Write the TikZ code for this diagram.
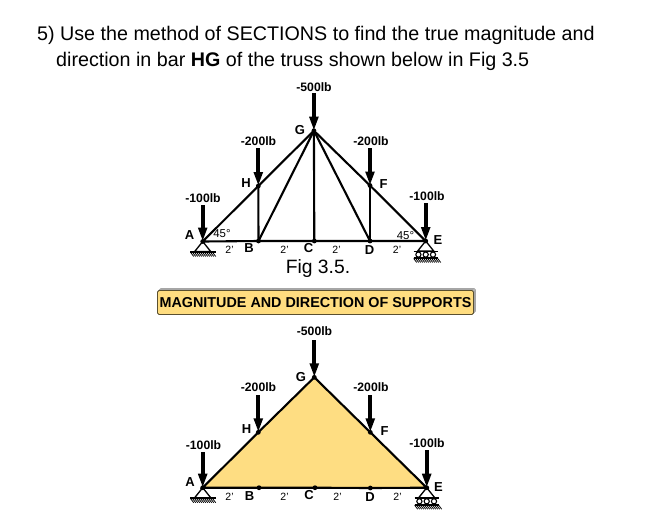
\documentclass[tikz,border=0pt]{standalone}
\usepackage{fontspec}
\setmainfont{Liberation Sans}
\usetikzlibrary{arrows.meta,shadows}
\definecolor{bannerfill}{HTML}{FFDD80}
\definecolor{bannerdraw}{HTML}{5A5030}
\definecolor{trussfill}{HTML}{FEDD82}
\tikzset{
  x=1pt,y=-1pt,
  member/.style={line width=2.1pt,black},
  joint/.style={circle,fill=black,inner sep=0pt,minimum size=4.8pt},
  load/.style={line width=3.8pt,black,-{Triangle[length=14pt,width=8.5pt]},shorten >=0pt},
  lbl/.style={font=\bfseries\fontsize{13}{14}\selectfont,inner sep=0pt},
  loadlbl/.style={font=\bfseries\fontsize{12.2}{14}\selectfont,inner sep=0pt},
  dim/.style={font=\fontsize{10.5}{12}\selectfont,inner sep=0pt},
  ang/.style={font=\fontsize{11.4}{12}\selectfont,inner sep=0pt},
  thin support/.style={line width=1.3pt,black},
  ground/.style={line width=1.8pt,black},
  hatch/.style={line width=.8pt,black},
  title/.style={font=\fontsize{19.7}{22}\selectfont,anchor=base west,inner sep=0pt},
  pics/pinsupport/.style={code={
    \draw[thin support] (0,0) -- (-8,10) -- (8,10) -- cycle;
    \draw[ground] (-12.7,10.5) -- (13,10.5);
    \foreach \i in {-12,-10,...,10} \draw[hatch] (\i,11) -- ++(3,4);
  }},
  pics/rollersupport/.style={code={
    \draw[thin support] (0,0) -- (-8,10) -- (8,10) -- cycle;
    \draw[ground] (-12,10.5) -- (12,10.5);
    \foreach \i in {-7.3,0,7.3} \draw[line width=1.1pt] (\i,13.6) circle (2.6);
    \draw[ground] (-12,17) -- (12,17);
    \foreach \i in {-12,-10,...,12} \draw[hatch] (\i,17.5) -- ++(3,4);
  }},
}
\begin{document}
\begin{tikzpicture}
\useasboundingbox (0,0) rectangle (652,517);
\fill[white] (0,0) rectangle (652,517);

% title
\node[title] (t1) at (37,40) {5) Use the method of SECTIONS to find the true magnitude and};
\node[title] (t2) at (56,66) {direction in bar \textbf{HG} of the truss shown below in Fig 3.5};

% ------- upper truss
\coordinate (A) at (202.7,241.5);
\coordinate (B) at (258.5,241);
\coordinate (C) at (314.3,241);
\coordinate (D) at (370,241);
\coordinate (E) at (425.7,241);
\coordinate (G) at (313.9,130.7);
\coordinate (H) at (258.3,186);
\coordinate (F) at (370,185.5);
\draw[member] (A) -- (H) -- (G) -- (F) -- (E) -- (D) -- (C) -- (B) -- (A);
\draw[member] (H) -- (B);
\draw[member] (B) -- (G);
\draw[member] (G) -- (C);
\draw[member] (G) -- (D);
\draw[member] (F) -- (D);
\pic at (A) {pinsupport};
\pic at (E) {rollersupport};
\foreach \n in {A,B,C,D,E,F,G,H} \node[joint] (j\n) at (\n) {};

\coordinate (la) at (202.7,205);
\coordinate (lh) at (258.3,148);
\coordinate (lg) at (313.9,93);
\coordinate (lf) at (370,148);
\coordinate (le) at (425.7,203);
\draw[load] (la) -- (A);
\draw[load] (lh) -- (H);
\draw[load] (lg) -- (G);
\draw[load] (lf) -- (F);
\draw[load] (le) -- (E);

\node[loadlbl] (l500) at (314,87) {-500lb};
\node[loadlbl] (l200a) at (258.5,141) {-200lb};
\node[loadlbl] (l200b) at (371,141) {-200lb};
\node[loadlbl] (l100a) at (203,198) {-100lb};
\node[loadlbl] (l100b) at (427,196) {-100lb};

\node[lbl] (nA) at (189.5,235.5) {A};
\node[lbl] (nB) at (249,248.5) {B};
\node[lbl] (nC) at (308.5,248.5) {C};
\node[lbl] (nD) at (369.5,250) {D};
\node[lbl] (nE) at (438,240.5) {E};
\node[lbl] (nG) at (300,130) {G};
\node[lbl] (nH) at (246,183) {H};
\node[lbl] (nF) at (383.5,184.5) {F};
\node[dim] (d1) at (229.5,250) {2'};
\node[dim] (d2) at (284.5,250) {2'};
\node[dim] (d3) at (336.5,250) {2'};
\node[dim] (d4) at (397,250) {2'};
\node[ang] (a1) at (222,234) {45°};
\node[ang] (a2) at (405.5,235.5) {45°};
\node[font=\fontsize{19.3}{22}\selectfont,inner sep=0pt] (fig) at (318,269) {Fig 3.5.};

% ------- banner
\node[draw=bannerdraw,fill=bannerfill,line width=.8pt,rounded corners=1.5pt,
      minimum width=316pt,minimum height=24pt,inner sep=0pt,
      double copy shadow={shadow xshift=1pt,shadow yshift=1pt,draw=gray!70,fill=gray!30},
      font=\bfseries\fontsize{14.35}{16}\selectfont] (banner) at (315.5,302.5) {MAGNITUDE AND DIRECTION OF SUPPORTS};

% ------- lower truss
\coordinate (A2) at (202.7,487.7);
\coordinate (B2) at (259,487.7);
\coordinate (C2) at (315,487.7);
\coordinate (D2) at (370.3,488);
\coordinate (E2) at (426.7,487.7);
\coordinate (G2) at (314.3,377.3);
\coordinate (H2) at (258.3,432.3);
\coordinate (F2) at (370.3,432.3);
\draw[member,fill=trussfill] (A2) -- (H2) -- (G2) -- (F2) -- (E2) -- (D2) -- (C2) -- (B2) -- cycle;
\pic at (A2) {pinsupport};
\pic at (E2) {rollersupport};
\foreach \n in {A2,B2,C2,D2,E2,F2,G2,H2} \node[joint] (j\n) at (\n) {};
\coordinate (la2) at (202.7,452);
\coordinate (lh2) at (258.3,395);
\coordinate (lg2) at (314.3,340);
\coordinate (lf2) at (370.3,395);
\coordinate (le2) at (426.7,450);
\draw[load] (la2) -- (A2);
\draw[load] (lh2) -- (H2);
\draw[load] (lg2) -- (G2);
\draw[load] (lf2) -- (F2);
\draw[load] (le2) -- (E2);

\node[loadlbl] (m500) at (314.5,331) {-500lb};
\node[loadlbl] (m200a) at (258.5,387) {-200lb};
\node[loadlbl] (m200b) at (371,387) {-200lb};
\node[loadlbl] (m100a) at (203.5,445) {-100lb};
\node[loadlbl] (m100b) at (427,443) {-100lb};

\node[lbl] (oA) at (190,482) {A};
\node[lbl] (oB) at (249.5,496) {B};
\node[lbl] (oC) at (309,495.5) {C};
\node[lbl] (oD) at (370,497.5) {D};
\node[lbl] (oE) at (438.5,487) {E};
\node[lbl] (oG) at (301,377) {G};
\node[lbl] (oH) at (246.5,429) {H};
\node[lbl] (oF) at (384.5,431) {F};
\node[dim] (e1) at (229.5,497) {2'};
\node[dim] (e2) at (284.5,497) {2'};
\node[dim] (e3) at (337.5,497) {2'};
\node[dim] (e4) at (397.5,497) {2'};
\end{tikzpicture}
\end{document}
